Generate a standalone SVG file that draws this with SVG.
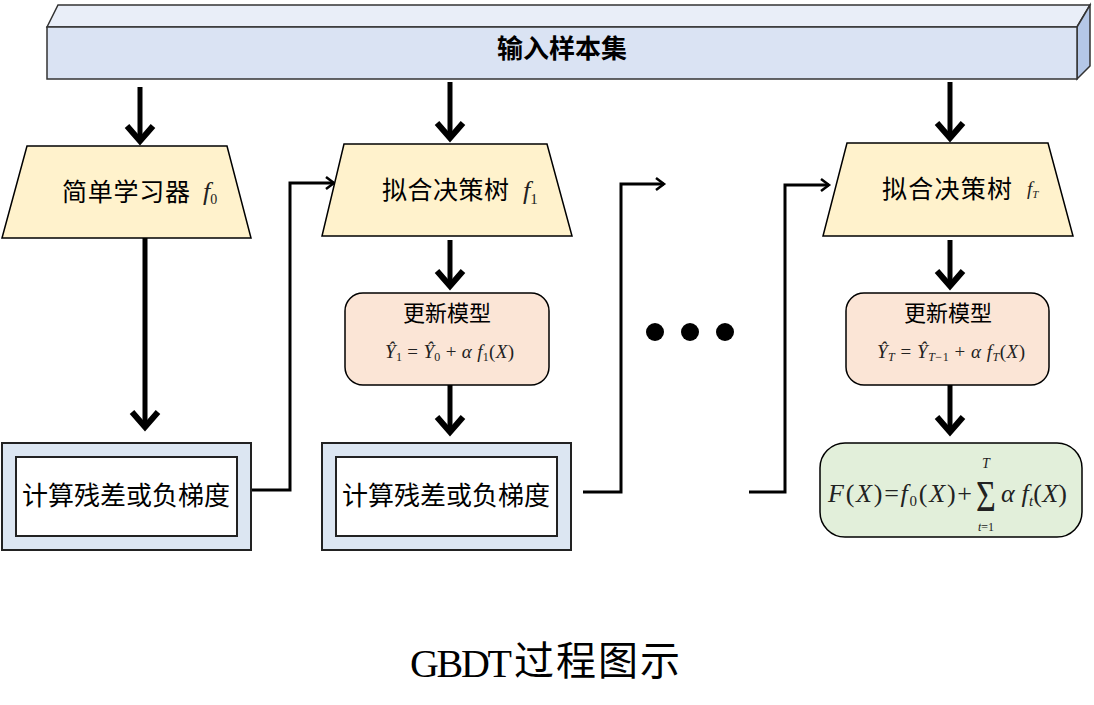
<svg xmlns="http://www.w3.org/2000/svg" width="1094" height="705" viewBox="0 0 1094 705">
<style>
.zh{font-family:"Noto Sans CJK SC","Noto Sans",sans-serif;fill:#000}
.m{font-family:"Liberation Serif","DejaVu Serif",serif;fill:#222}
.i{font-style:italic}
.thick{fill:none;stroke:#000;stroke-width:5}
.thin{fill:none;stroke:#000;stroke-width:3}
.trap{fill:#fff2cc;stroke:#000;stroke-width:1.5}
.upd{fill:#fbe5d6;stroke:#000;stroke-width:1.5}
.res{fill:#e2efda;stroke:#000;stroke-width:1.5}
.outer{fill:#dce6f2;stroke:#222;stroke-width:2}
.inner{fill:#fff;stroke:#222;stroke-width:2}
</style>
<defs>
<marker id="big" markerUnits="userSpaceOnUse" viewBox="-20 -16 26 32" markerWidth="26" markerHeight="32" refX="0" refY="0" orient="auto" overflow="visible">
<path d="M-15,-13 L0,0 L-15,13" fill="none" stroke="#000" stroke-width="6"/>
</marker>
<marker id="small" markerUnits="userSpaceOnUse" viewBox="-10 -8 14 16" markerWidth="14" markerHeight="16" refX="0" refY="0" orient="auto" overflow="visible">
<path d="M-8,-6 L0,0 L-8,6" fill="none" stroke="#000" stroke-width="2.5"/>
</marker>
</defs>
<rect width="1094" height="705" fill="#fff"/>

<g id="input">
<polygon points="47,27 58,5 1090,5 1077,27" fill="#e9eef8" stroke="#333" stroke-width="1.5"/>
<polygon points="1077,27 1090,5 1090,66 1077,79" fill="#b4c7e7" stroke="#333" stroke-width="1.5"/>
<rect x="47" y="27" width="1030" height="52" fill="#dae3f3" stroke="#333" stroke-width="1.5"/>
<text class="zh" x="562" y="58" font-size="26" font-weight="bold" text-anchor="middle">输入样本集</text>
</g>

<g id="connectors">
<line class="thick" x1="140" y1="87" x2="140" y2="141" marker-end="url(#big)"/>
<line class="thick" x1="450" y1="82" x2="450" y2="138" marker-end="url(#big)"/>
<line class="thick" x1="950" y1="82" x2="950" y2="138" marker-end="url(#big)"/>
<line class="thick" x1="145" y1="238" x2="145" y2="427" marker-end="url(#big)"/>
<line class="thick" x1="450" y1="240" x2="450" y2="286" marker-end="url(#big)"/>
<line class="thick" x1="450" y1="385" x2="450" y2="432" marker-end="url(#big)"/>
<line class="thick" x1="950" y1="240" x2="950" y2="286" marker-end="url(#big)"/>
<line class="thick" x1="950" y1="385" x2="950" y2="432" marker-end="url(#big)"/>
<polyline class="thin" points="251,490 290,490 290,183 334,183" marker-end="url(#small)"/>
<polyline class="thin" points="583,492 621,492 621,184 664,184" marker-end="url(#small)"/>
<polyline class="thin" points="749,492 785,492 785,185 829,185" marker-end="url(#small)"/>
</g>

<g id="learner0">
<polygon class="trap" points="27,146 227,146 251,238 2,238"/>
<text class="zh" x="62" y="201" font-size="25" textLength="128">简单学习器</text>
<text class="m i" x="203" y="200" font-size="26">f<tspan font-size="14" dy="4" font-style="normal">0</tspan></text>
</g>

<g id="tree1">
<polygon class="trap" points="344,144 547,144 572,236 322,236"/>
<text class="zh" x="382" y="199" font-size="25" textLength="127">拟合决策树</text>
<text class="m i" x="523" y="199" font-size="26">f<tspan font-size="15" dy="5" font-style="normal">1</tspan></text>
</g>

<g id="treeT">
<polygon class="trap" points="847,143 1048,143 1073,236 823,236"/>
<text class="zh" x="882" y="198" font-size="25" textLength="130">拟合决策树</text>
<text class="m i" x="1027" y="195" font-size="19">f<tspan font-size="11" dy="3">T</tspan></text>
</g>

<g id="update1">
<rect class="upd" x="345" y="293" width="204" height="92" rx="18"/>
<text class="zh" x="447" y="321" font-size="22" text-anchor="middle">更新模型</text>
<text class="m" x="385" y="358" font-size="19" textLength="129"><tspan class="i">Ŷ</tspan><tspan font-size="12" dy="3">1</tspan><tspan dy="-3"> = </tspan><tspan class="i">Ŷ</tspan><tspan font-size="12" dy="3">0</tspan><tspan dy="-3"> + </tspan><tspan class="i">α f</tspan><tspan font-size="12" dy="3">1</tspan><tspan dy="-3">(</tspan><tspan class="i">X</tspan>)</text>
</g>

<g id="updateT">
<rect class="upd" x="846" y="293" width="203" height="92" rx="18"/>
<text class="zh" x="948" y="321" font-size="22" text-anchor="middle">更新模型</text>
<text class="m" x="877" y="358" font-size="19" textLength="148"><tspan class="i">Ŷ</tspan><tspan class="i" font-size="12" dy="3">T</tspan><tspan dy="-3"> = </tspan><tspan class="i">Ŷ</tspan><tspan font-size="12" dy="3"><tspan class="i">T</tspan>−1</tspan><tspan dy="-3"> + </tspan><tspan class="i">α f</tspan><tspan class="i" font-size="12" dy="3">T</tspan><tspan dy="-3">(</tspan><tspan class="i">X</tspan>)</text>
</g>

<g id="result">
<rect class="res" x="820" y="443" width="262" height="94" rx="25"/>
<text class="m" x="828" y="502" font-size="26" textLength="144"><tspan class="i">F</tspan>(<tspan class="i">X</tspan>)=<tspan class="i">f</tspan><tspan font-size="15" dy="4">0</tspan><tspan dy="-4">(</tspan><tspan class="i">X</tspan>)+</text>
<text class="m" transform="translate(986,511) scale(1,1.3)" x="0" y="0" font-size="34" text-anchor="middle">Σ</text>
<text class="m i" x="986" y="468" font-size="14" text-anchor="middle">T</text>
<text class="m" x="986" y="531" font-size="12" text-anchor="middle"><tspan class="i">t</tspan>=1</text>
<text class="m" x="1001" y="502" font-size="26" textLength="66"><tspan class="i">α f</tspan><tspan class="i" font-size="15" dy="4">t</tspan><tspan dy="-4">(</tspan><tspan class="i">X</tspan>)</text>
</g>

<g id="residual0">
<rect class="outer" x="2" y="443" width="249" height="107"/>
<rect class="inner" x="16" y="457" width="221" height="79"/>
<text class="zh" x="22" y="505" font-size="26" textLength="208">计算残差或负梯度</text>
</g>

<g id="residual1">
<rect class="outer" x="322" y="443" width="249" height="107"/>
<rect class="inner" x="336" y="457" width="221" height="79"/>
<text class="zh" x="342" y="505" font-size="26" textLength="208">计算残差或负梯度</text>
</g>

<g id="ellipsis">
<circle cx="655" cy="332" r="9" fill="#000"/>
<circle cx="690" cy="332" r="9" fill="#000"/>
<circle cx="725" cy="332" r="9" fill="#000"/>
</g>

<g id="caption">
<text class="m" x="410" y="677" font-size="40" textLength="102" style="fill:#000">GBDT</text>
<text class="zh" x="514" y="675" font-size="40" textLength="166">过程图示</text>
</g>
</svg>
